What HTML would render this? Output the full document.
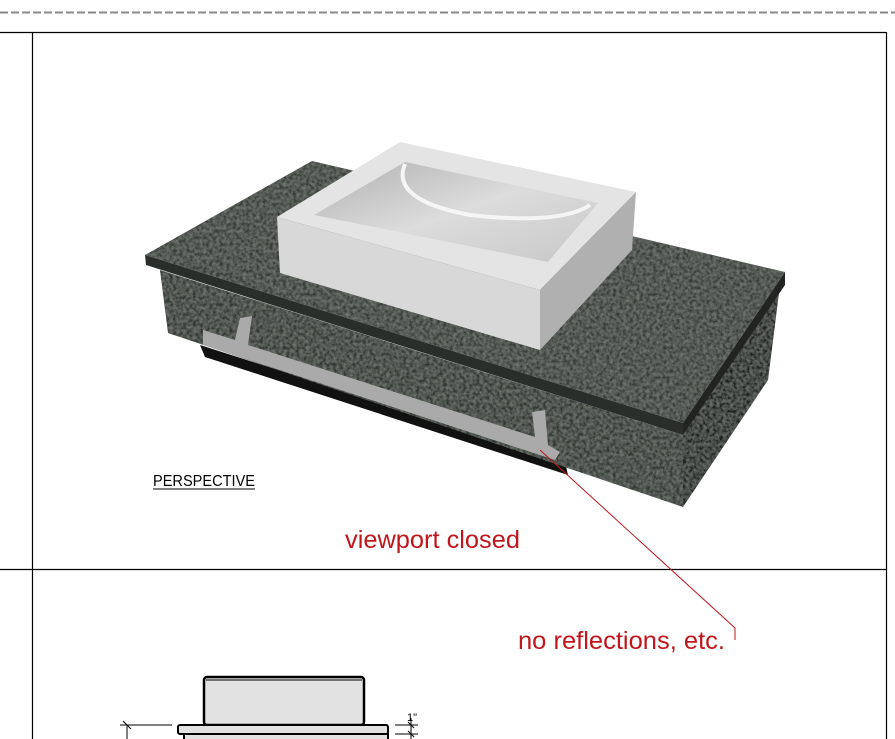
<!DOCTYPE html>
<html><head><meta charset="utf-8"><style>
html,body{margin:0;padding:0;background:#fff;width:895px;height:739px;overflow:hidden}
svg{display:block}
</style></head><body>
<svg width="895" height="739" viewBox="0 0 895 739" xmlns="http://www.w3.org/2000/svg">
<defs>
<filter id="tex" x="0" y="0" width="100%" height="100%">
<feTurbulence type="fractalNoise" baseFrequency="0.3" numOctaves="2" seed="3" result="n"/>
<feColorMatrix in="n" type="matrix" values="0 0 0 0 0.4  0 0 0 0 0.43  0 0 0 0 0.4  0 0 0 -0.6 0.45" result="c"/>
<feComposite in="c" in2="SourceGraphic" operator="in" result="t"/>
<feMerge><feMergeNode in="SourceGraphic"/><feMergeNode in="t"/></feMerge>
</filter>
<linearGradient id="basin" x1="0" y1="0" x2="1" y2="1">
<stop offset="0" stop-color="#b0b0b0"/><stop offset="0.5" stop-color="#dcdcdc"/><stop offset="1" stop-color="#c8c8c8"/>
</linearGradient>
</defs>
<line x1="0" y1="12.5" x2="895" y2="12.5" stroke="#888" stroke-width="2" stroke-dasharray="8,3"/>
<line x1="0" y1="32.5" x2="886" y2="32.5" stroke="#000" stroke-width="1.2"/>
<line x1="32.5" y1="32" x2="32.5" y2="739" stroke="#000" stroke-width="1.2"/>
<line x1="886.5" y1="32" x2="886.5" y2="739" stroke="#000" stroke-width="1.2"/>
<line x1="0" y1="569.5" x2="886" y2="569.5" stroke="#000" stroke-width="1.2"/>

<polygon points="200,345 565,462 568,475 205,357" fill="#111"/>
<polygon points="160,270 683,435 683,507 168,333" fill="#323732" filter="url(#tex)"/>
<polygon points="683,435 780,285 768,380 683,507" fill="#1e201e" filter="url(#tex)"/>
<polygon points="145,255 312,161 785,272 683,423" fill="#383d38" filter="url(#tex)"/>
<polygon points="145,255 683,423 683,435 146,265" fill="#2a2e2a"/>
<polygon points="683,423 785,272 785,285 683,435" fill="#222422"/>
<polygon points="203,330 235,340 240,318 252,316 248,345 535,437 532,412 545,410 548,445 560,452 555,460 203,345" fill="#aaa"/>
<polygon points="277,217 400,142 636,192 540,290" fill="#e4e4e4"/>
<polygon points="277,217 540,290 540,350 280,273" fill="#d8d8d8"/>
<polygon points="540,290 636,192 632,250 540,350" fill="#b0b0b0"/>
<polygon points="314,215 405,162 598,203 548,262" fill="url(#basin)"/>
<path d="M405,164 Q390,200 470,215 Q560,225 590,205" fill="none" stroke="#f5f5f5" stroke-width="4"/>

<text x="153" y="486" font-family="Liberation Sans, sans-serif" font-size="16" textLength="102" lengthAdjust="spacingAndGlyphs">PERSPECTIVE</text>
<line x1="153" y1="489" x2="255" y2="489" stroke="#000" stroke-width="1"/>
<text x="345" y="548" font-family="Liberation Sans, sans-serif" font-size="25" fill="#c0161c" textLength="175" lengthAdjust="spacingAndGlyphs">viewport closed</text>
<text x="518" y="649" font-family="Liberation Sans, sans-serif" font-size="25" fill="#c0161c" textLength="207" lengthAdjust="spacingAndGlyphs">no reflections, etc.</text>
<polyline points="540,450 735,628 735,640" fill="none" stroke="#c0161c" stroke-width="1"/>

<rect x="204" y="677" width="160" height="48" rx="3" fill="#e2e2e2" stroke="#000" stroke-width="2.5"/>
<line x1="206" y1="680" x2="362" y2="680" stroke="#000" stroke-width="1"/>
<rect x="178" y="725" width="210" height="9" rx="2" fill="#e2e2e2" stroke="#000" stroke-width="2"/>
<rect x="184" y="734" width="204" height="10" fill="#e2e2e2" stroke="#000" stroke-width="2"/>
<line x1="120" y1="725" x2="172" y2="725" stroke="#000" stroke-width="1"/>
<line x1="127" y1="725" x2="127" y2="739" stroke="#000" stroke-width="1"/>
<line x1="123" y1="721" x2="131" y2="729" stroke="#000" stroke-width="1"/>
<line x1="395" y1="725" x2="418" y2="725" stroke="#000" stroke-width="1"/>
<line x1="395" y1="734" x2="418" y2="734" stroke="#000" stroke-width="1"/>
<line x1="411" y1="718" x2="411" y2="739" stroke="#000" stroke-width="1"/>
<line x1="408" y1="722" x2="414" y2="728" stroke="#000" stroke-width="1"/>
<line x1="408" y1="731" x2="414" y2="737" stroke="#000" stroke-width="1"/>
<text x="407" y="721" font-family="Liberation Sans, sans-serif" font-size="11">1"</text>
</svg>
</body></html>
